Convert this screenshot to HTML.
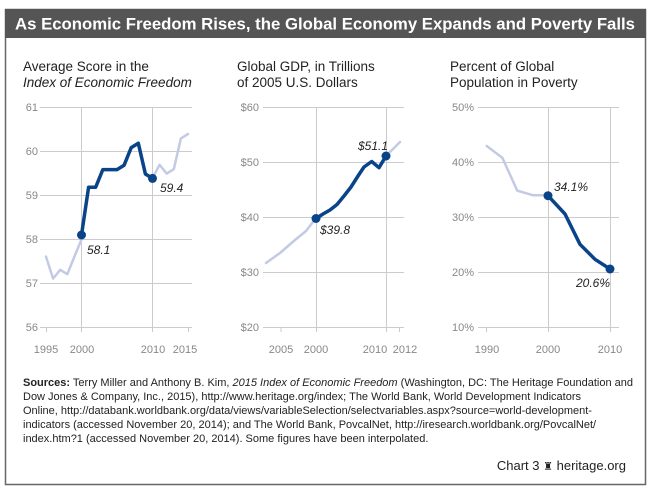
<!DOCTYPE html>
<html><head><meta charset="utf-8"><style>
html,body{margin:0;padding:0;background:#fff;}
body{width:652px;height:494px;overflow:hidden;font-family:"Liberation Sans",sans-serif;}
</style></head><body>
<svg width="652" height="494" xmlns="http://www.w3.org/2000/svg" font-family="Liberation Sans, sans-serif">
<rect x="5.5" y="9.5" width="640" height="475" fill="#fff" stroke="#666" stroke-width="1.5"/>
<rect x="5" y="9" width="641" height="29" fill="#555"/>
<text x="325" y="29.5" fill="#fff" font-size="17" font-weight="bold" text-anchor="middle" textLength="620" lengthAdjust="spacingAndGlyphs">As Economic Freedom Rises, the Global Economy Expands and Poverty Falls</text>
<g font-size="13.5" fill="#222">
<text x="23" y="71">Average Score in the</text>
<text x="23" y="87" font-style="italic">Index of Economic Freedom</text>
<text x="237" y="71">Global GDP, in Trillions</text>
<text x="237" y="87">of 2005 U.S. Dollars</text>
<text x="450" y="71">Percent of Global</text>
<text x="450" y="87">Population in Poverty</text>
</g>
<g stroke="#ccc" stroke-width="1" fill="none">
<path d="M40 107.5H192M40 151.5H192M40 195.5H192M40 239.5H192M40 283.5H192M40 327.5H192"/>
<path d="M81.5 107V332M152.5 107V332M46.5 327V332M188.5 327V332"/>
<path d="M263 107.5H404M263 162.5H404M263 217.5H404M263 272.5H404M263 327.5H404"/>
<path d="M316.5 107V332M386.5 107V332M281 327V332M399.5 327V332"/>
<path d="M478 107.5H619M478 162.5H619M478 217.5H619M478 272.5H619M478 327.5H619"/>
<path d="M548.5 107V332M610.5 107V332M486.5 327V332"/>
</g>
<g font-size="11" fill="#888" text-anchor="end">
<text x="38" y="111">61</text><text x="38" y="155">60</text><text x="38" y="199">59</text><text x="38" y="243">58</text><text x="38" y="287">57</text><text x="38" y="331">56</text>
<text x="259" y="111">$60</text><text x="259" y="166">$50</text><text x="259" y="221">$40</text><text x="259" y="276">$30</text><text x="259" y="331">$20</text>
<text x="474" y="111">50%</text><text x="474" y="166">40%</text><text x="474" y="221">30%</text><text x="474" y="276">20%</text><text x="474" y="331">10%</text>
</g>
<g font-size="11" fill="#888" text-anchor="middle">
<text x="46" y="353">1995</text><text x="82" y="353">2000</text><text x="153" y="353">2010</text><text x="185" y="353">2015</text>
<text x="281" y="353">2005</text><text x="316" y="353">2000</text><text x="375" y="353">2010</text><text x="405" y="353">2012</text>
<text x="487" y="353">1990</text><text x="548" y="353">2000</text><text x="610" y="353">2010</text>
</g>
<g fill="none" stroke-linejoin="round" stroke-linecap="round">
<polyline stroke="#c3cbe4" stroke-width="2.5" points="46,256.6 53.1,278.6 60.2,269.8 67.3,274.2 74.4,256.6 81.5,239.5"/>
<polyline stroke="#c3cbe4" stroke-width="2.5" points="152.5,178 159.6,164.8 166.7,173.6 173.8,169.2 180.9,138.4 188,134"/>
<polyline stroke="#0a4488" stroke-width="3.5" points="81.5,235 88.6,187.2 95.7,187.2 102.8,169.6 109.9,169.6 117,169.6 124.1,165.2 131.2,147.6 138.3,143.2 145.4,174 152.5,178.4"/>
<polyline stroke="#c3cbe4" stroke-width="2.5" points="266,263 280,253 295,240 306,231 316,218"/>
<polyline stroke="#c3cbe4" stroke-width="2.5" points="386,156 400,142"/>
<polyline stroke="#0a4488" stroke-width="3.5" points="316,218.5 323,214 330,210 337,204.5 344,196 351,187 358,176 364,167 371.7,161.5 379,167.7 386,156"/>
<polyline stroke="#c3cbe4" stroke-width="2.5" points="486.7,146 502.3,157.7 517.3,190.7 533.3,195.3 548,195.3"/>
<polyline stroke="#0a4488" stroke-width="3.5" points="548,195.7 565,214 580,244.3 595,259.3 610,269"/>
</g>
<g fill="#0a4488">
<circle cx="81.5" cy="235" r="4.5"/><circle cx="152.5" cy="178.4" r="4.5"/>
<circle cx="316" cy="218.5" r="4.5"/><circle cx="386" cy="156" r="4.5"/>
<circle cx="548" cy="195.7" r="4.5"/><circle cx="610" cy="269" r="4.5"/>
</g>
<g font-size="12" font-style="italic" fill="#222">
<text x="87" y="254">58.1</text><text x="160" y="192">59.4</text>
<text x="320" y="234">$39.8</text><text x="358" y="150">$51.1</text>
<text x="554" y="191">34.1%</text><text x="576" y="287">20.6%</text>
</g>
<g font-size="11" fill="#222">
<text x="23" y="386"><tspan font-weight="bold">Sources:</tspan> Terry Miller and Anthony B. Kim, <tspan font-style="italic">2015 Index of Economic Freedom</tspan> (Washington, DC: The Heritage Foundation and</text>
<text x="23" y="400">Dow Jones &amp; Company, Inc., 2015), http://www.heritage.org/index; The World Bank, World Development Indicators</text>
<text x="23" y="414">Online, http://databank.worldbank.org/data/views/variableSelection/selectvariables.aspx?source=world-development-</text>
<text x="23" y="428">indicators (accessed November 20, 2014); and The World Bank, PovcalNet, http://iresearch.worldbank.org/PovcalNet/</text>
<text x="23" y="442">index.htm?1 (accessed November 20, 2014). Some figures have been interpolated.</text>
</g>
<text x="626" y="470" font-size="13" fill="#222" text-anchor="end">Chart 3 <tspan font-size="11">♜</tspan> heritage.org</text>
</svg>
</body></html>
